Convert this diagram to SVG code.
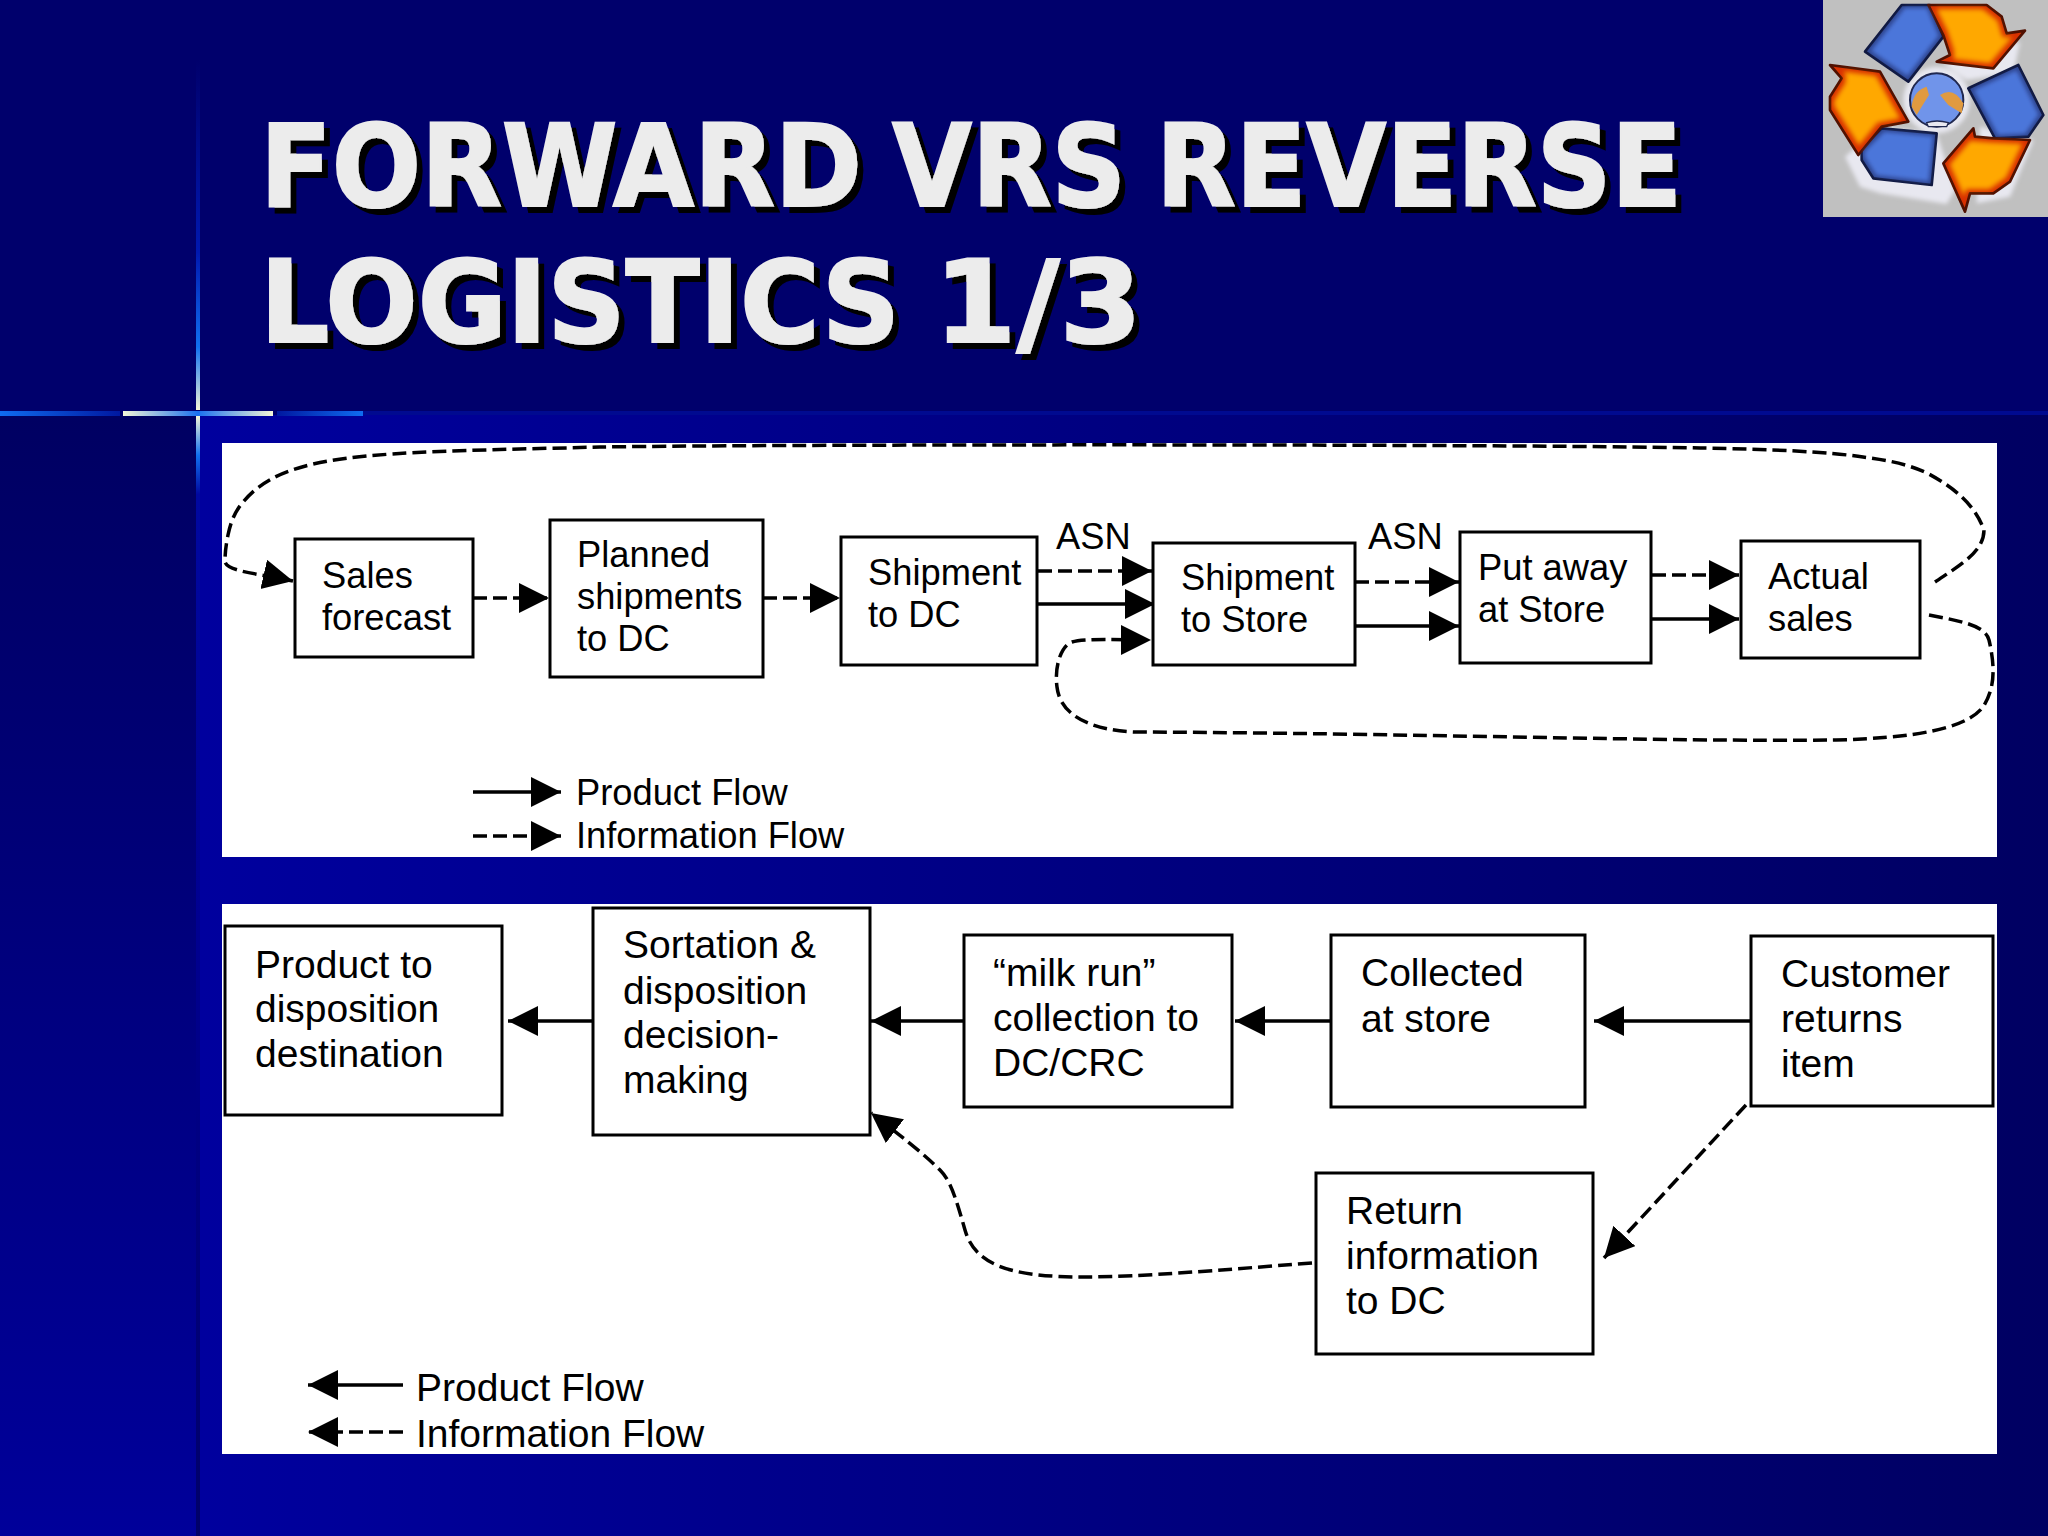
<svg xmlns="http://www.w3.org/2000/svg" xmlns:xlink="http://www.w3.org/1999/xlink" width="2048" height="1536" viewBox="0 0 2048 1536">
<style>
.box{fill:#fff;stroke:#000;stroke-width:3}
.t{font-family:"Liberation Sans",Arial,sans-serif;font-size:36.3px;fill:#000}
.b{font-size:39px}
.title{font-family:"DejaVu Sans",Verdana,sans-serif;font-weight:bold;font-size:114px;fill:#ececec;stroke:#ececec;stroke-width:2}
.s{fill:none;stroke:#000;stroke-width:3.5}
.d{fill:none;stroke:#000;stroke-width:3.5;stroke-dasharray:14 6}
.a{marker-end:url(#arrow)}
</style>
<defs>
<marker id="arrow" markerUnits="userSpaceOnUse" markerWidth="31" markerHeight="32" refX="30" refY="15" orient="auto"><path d="M0 0L30 15L0 30Z" fill="#000"/></marker>
<linearGradient id="bg" x1="0" x2="1"><stop offset="0" stop-color="#00009e"/><stop offset="1" stop-color="#000062"/></linearGradient>
<linearGradient id="leftcol" x1="0" x2="0" y1="0" y2="1"><stop offset="0" stop-color="#000062"/><stop offset="1" stop-color="#00009a"/></linearGradient>
<linearGradient id="hl1" x1="0" x2="1"><stop offset="0" stop-color="#0f6cf0"/><stop offset="1" stop-color="#0018a0"/></linearGradient>
<linearGradient id="hl2" x1="0" x2="1"><stop offset="0" stop-color="#f4f6d8"/><stop offset=".5" stop-color="#1a70f0"/><stop offset="1" stop-color="#f4f6d8"/></linearGradient>
<linearGradient id="hl3" x1="0" x2="1"><stop offset="0" stop-color="#0018a0"/><stop offset="1" stop-color="#0f6cf0"/></linearGradient>
<linearGradient id="vl1" x1="0" x2="0" y1="0" y2="1"><stop offset="0" stop-color="#00006c"/><stop offset=".55" stop-color="#0018b0"/><stop offset=".82" stop-color="#1070f0"/><stop offset="1" stop-color="#f4f6d8"/></linearGradient>
<linearGradient id="vl2" x1="0" x2="0" y1="0" y2="1"><stop offset="0" stop-color="#f4f6d8"/><stop offset=".035" stop-color="#1070f0"/><stop offset=".07" stop-color="#0008a0"/><stop offset=".45" stop-color="#000090"/><stop offset=".9" stop-color="#000070"/><stop offset="1" stop-color="#000068"/></linearGradient>
<filter id="shadow" x="-5%" y="-20%" width="110%" height="140%"><feOffset in="SourceAlpha" dx="6" dy="6" result="o"/><feMerge><feMergeNode in="o"/><feMergeNode in="SourceGraphic"/></feMerge></filter>
<filter id="blur"><feGaussianBlur stdDeviation="6"/></filter>
<filter id="inner" x="-5%" y="-5%" width="110%" height="110%"><feMorphology operator="erode" radius="13"/><feGaussianBlur stdDeviation="8"/></filter>
<filter id="innerb" x="-5%" y="-5%" width="110%" height="110%"><feMorphology operator="erode" radius="8"/><feGaussianBlur stdDeviation="6"/></filter>
<polygon id="b1" points="255,155 365,15 450,15 490,110 385,245"/>
<polygon id="b2" points="565,265 715,195 790,345 745,410 645,415"/>
<polygon id="b3" points="305,385 470,400 455,555 280,535 245,480 245,445"/>
<polygon id="o1" points="445,15 620,15 665,50 680,100 735,92 640,205 470,185 510,165 490,105"/>
<polygon id="o2" points="750,420 690,545 640,580 570,580 555,635 490,490 580,385 585,410 640,415"/>
<polygon id="o3" points="150,195 300,215 385,365 305,380 235,465 150,330 150,290 185,235"/>
</defs>
<rect width="2048" height="1536" fill="#00006c"/>
<rect x="0" y="416" width="200" height="1120" fill="url(#leftcol)"/>
<rect x="200" y="415" width="1848" height="1121" fill="url(#bg)"/>
<g id="decor">
<rect x="0" y="411" width="120" height="5" fill="url(#hl1)"/>
<rect x="123" y="411" width="150" height="5" fill="url(#hl2)"/>
<rect x="277" y="411" width="86" height="5" fill="url(#hl3)"/>
<rect x="363" y="411" width="1685" height="4" fill="#000a90"/>
<rect x="196" y="60" width="4" height="350" fill="url(#vl1)"/>
<rect x="196" y="416" width="4" height="1120" fill="url(#vl2)"/>
</g>
<g id="logo">
<rect x="1823" y="0" width="225" height="217" fill="#c0c0c0"/>
<g transform="translate(1780 0) scale(.33333)">
<g fill="#e8e8f0" filter="url(#blur)">
<polygon points="195,470 240,560 300,580 500,612 525,570 470,400 300,380"/>
<polygon points="490,190 720,125 700,220 560,240"/>
<circle cx="470" cy="300" r="100"/>
<polygon points="590,610 690,590 760,420 600,380"/>
</g>
<g stroke-width="8" stroke-linejoin="round">
<g fill="#2e4590" stroke="#101840"><use xlink:href="#b1" href="#b1"/><use xlink:href="#b2" href="#b2"/><use xlink:href="#b3" href="#b3"/></g>
<g fill="#d83000" stroke="#501000"><use xlink:href="#o1" href="#o1"/><use xlink:href="#o2" href="#o2"/><use xlink:href="#o3" href="#o3"/></g>
</g>
<g fill="#4c76da"><use xlink:href="#b1" href="#b1" filter="url(#innerb)"/><use xlink:href="#b2" href="#b2" filter="url(#innerb)"/><use xlink:href="#b3" href="#b3" filter="url(#innerb)"/></g>
<g fill="#ffa800"><use xlink:href="#o1" href="#o1" filter="url(#inner)"/><use xlink:href="#o2" href="#o2" filter="url(#inner)"/><use xlink:href="#o3" href="#o3" filter="url(#inner)"/></g>
<circle cx="470" cy="300" r="80" fill="#7094ea" stroke="#202850" stroke-width="6"/>
<path d="M395 320Q400 272 440 260L447 285L425 320L410 345Z" fill="#e09a40"/>
<path d="M480 285Q520 258 550 310L545 340L505 315Z" fill="#e09a40"/>
<path d="M440 368Q470 358 505 368L500 380H445Z" fill="#e8e8f0" stroke="#202850" stroke-width="4"/>
</g>
</g>
<g id="title" class="title" filter="url(#shadow)">
<text y="206"><tspan x="260" textLength="602" lengthAdjust="spacingAndGlyphs">FORWARD</tspan> <tspan x="892" textLength="234" lengthAdjust="spacingAndGlyphs">VRS</tspan> <tspan x="1156" textLength="526" lengthAdjust="spacingAndGlyphs">REVERSE</tspan></text>
<text y="342"><tspan x="260" textLength="640" lengthAdjust="spacingAndGlyphs">LOGISTICS</tspan> <tspan x="934" textLength="208" lengthAdjust="spacingAndGlyphs">1/3</tspan></text>
</g>
<rect id="panel-forward" x="222" y="443" width="1775" height="414" fill="#fff"/>
<rect id="panel-reverse" x="222" y="904" width="1775" height="550" fill="#fff"/>
<g id="connectors">
<path class="d a" d="M473 598H549"/>
<path class="d a" d="M763 598H840"/>
<path class="d a" d="M1038 571H1152"/>
<path class="s a" d="M1037 604H1155"/>
<path class="d a" d="M1355 582H1459"/>
<path class="s a" d="M1355 626H1459"/>
<path class="d a" d="M1652 575H1739"/>
<path class="s a" d="M1652 619H1739"/>
<path class="d a" d="M1935 582C1960 565 1984 552 1984 530C1975 505 1955 488 1927 473C1905 463 1885 460 1863 457C1830 452 1770 449 1700 448C1500 444 800 444 600 447C530 449 450 450 392 454C360 456 335 459 313 464C285 471 270 478 255 490C238 505 232 516 228 535C226 545 225 552 225 562C228 572 262 574 293 581"/>
<path class="d a" d="M1929 615C1960 621 1985 625 1989 640C1996 670 1994 690 1983 707C1965 730 1910 738 1836 740C1668 742 1400 733 1134 732C1090 730 1060 715 1057 687C1054 665 1062 645 1072 642C1085 638 1120 640 1151 640"/>
<path class="s a" d="M1751 1021H1594"/>
<path class="s a" d="M1331 1021H1235"/>
<path class="s a" d="M964 1021H871"/>
<path class="s a" d="M593 1021H508"/>
<path class="d a" d="M1746 1105L1604 1258"/>
<path class="d a" d="M1312 1263C1220 1270 1140 1277 1084 1277C1010 1277 975 1265 965 1230C955 1195 950 1180 940 1170C925 1155 900 1135 871 1113"/>
<path class="s a" d="M473 792H561"/>
<path class="d a" d="M473 836H561"/>
<path class="s a" d="M403 1385H308"/>
<path class="d a" d="M403 1432H308"/>
</g>
<g id="sales-forecast"><rect class="box" x="295" y="539" width="178" height="118"/><text class="t" x="322" y="588">Sales</text><text class="t" x="322" y="630">forecast</text></g>
<g id="planned-shipments"><rect class="box" x="550" y="520" width="213" height="157"/><text class="t" x="577" y="567">Planned</text><text class="t" x="577" y="609">shipments</text><text class="t" x="577" y="651">to DC</text></g>
<g id="shipment-dc"><rect class="box" x="841" y="537" width="196" height="128"/><text class="t" x="868" y="585">Shipment</text><text class="t" x="868" y="627">to DC</text></g>
<g id="shipment-store"><rect class="box" x="1153" y="543" width="202" height="122"/><text class="t" x="1181" y="590">Shipment</text><text class="t" x="1181" y="632">to Store</text></g>
<g id="put-away"><rect class="box" x="1460" y="532" width="191" height="131"/><text class="t" x="1478" y="580">Put away</text><text class="t" x="1478" y="622">at Store</text></g>
<g id="actual-sales"><rect class="box" x="1741" y="541" width="179" height="117"/><text class="t" x="1768" y="589">Actual</text><text class="t" x="1768" y="631">sales</text></g>
<g id="labels-forward"><text class="t" x="1056" y="549">ASN</text><text class="t" x="1368" y="549">ASN</text><text class="t" x="576" y="805">Product Flow</text><text class="t" x="576" y="848">Information Flow</text></g>
<g id="product-destination"><rect class="box" x="225" y="926" width="277" height="189"/><text class="t b" x="255" y="978">Product to</text><text class="t b" x="255" y="1022">disposition</text><text class="t b" x="255" y="1067">destination</text></g>
<g id="sortation"><rect class="box" x="593" y="908" width="277" height="227"/><text class="t b" x="623" y="958">Sortation &amp;</text><text class="t b" x="623" y="1004">disposition</text><text class="t b" x="623" y="1048">decision-</text><text class="t b" x="623" y="1093">making</text></g>
<g id="milk-run"><rect class="box" x="964" y="935" width="268" height="172"/><text class="t b" x="993" y="986">“milk run”</text><text class="t b" x="993" y="1031">collection to</text><text class="t b" x="993" y="1076">DC/CRC</text></g>
<g id="collected"><rect class="box" x="1331" y="935" width="254" height="172"/><text class="t b" x="1361" y="986">Collected</text><text class="t b" x="1361" y="1032">at store</text></g>
<g id="customer-returns"><rect class="box" x="1751" y="936" width="242" height="170"/><text class="t b" x="1781" y="987">Customer</text><text class="t b" x="1781" y="1032">returns</text><text class="t b" x="1781" y="1077">item</text></g>
<g id="return-info"><rect class="box" x="1316" y="1173" width="277" height="181"/><text class="t b" x="1346" y="1224">Return</text><text class="t b" x="1346" y="1269">information</text><text class="t b" x="1346" y="1314">to DC</text></g>
<g id="labels-reverse"><text class="t b" x="416" y="1401">Product Flow</text><text class="t b" x="416" y="1447">Information Flow</text></g>
</svg>
